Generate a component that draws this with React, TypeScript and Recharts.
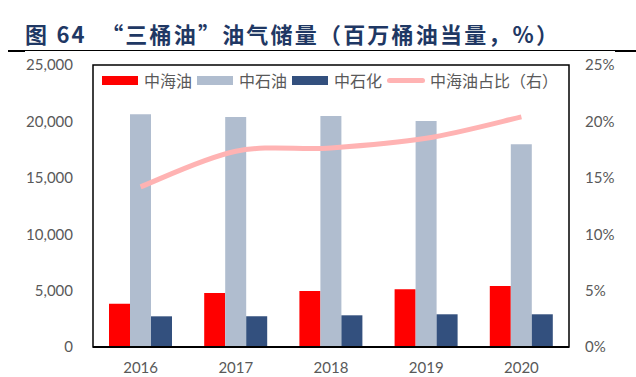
import React from "react";
import {
  ComposedChart,
  Bar,
  Line,
  XAxis,
  YAxis,
  ReferenceArea,
} from "recharts";

const years = ["2016", "2017", "2018", "2019", "2020"];
const cnooc = [3840, 4790, 4965, 5115, 5410];
const petroChina = [20630, 20390, 20480, 20035, 17970];
const sinopec = [2720, 2720, 2810, 2900, 2900];
const cnoocShare = [0.142, 0.1735, 0.1765, 0.185, 0.204];
const leftTicks = [0, 5000, 10000, 15000, 20000, 25000];
const rightTicks = [0, 0.05, 0.1, 0.15, 0.2, 0.25];

const seriesNames = ["中海油", "中石油", "中石化", "中海油占比（右）"];
const colors = ["#FF0000", "#B0BDCF", "#33507E", "#FFB3B3"];
const seriesKinds = ["bar", "bar", "bar", "line"];

const data = years.map((y, i) => ({
  year: y,
  cnooc: cnooc[i],
  petroChina: petroChina[i],
  sinopec: sinopec[i],
  share: cnoocShare[i],
}));

const tickStyle = { fill: "#595959", fontSize: 15, fontFamily: "Lato, 'Open Sans', sans-serif" };

// Excel-like smoothed curve (Catmull-Rom style Bezier)
const smoothCurve: any = (context: any) => {
  let pts: number[][] = [];
  return {
    areaStart() {},
    areaEnd() {},
    lineStart() {
      pts = [];
    },
    point(x: number, y: number) {
      pts.push([+x, +y]);
    },
    lineEnd() {
      if (!pts.length) return;
      context.moveTo(pts[0][0], pts[0][1]);
      for (let i = 0; i < pts.length - 1; i++) {
        const p0 = pts[i - 1] || pts[i];
        const p1 = pts[i];
        const p2 = pts[i + 1];
        const p3 = pts[i + 2] || p2;
        context.bezierCurveTo(
          p1[0] + (p2[0] - p0[0]) / 6,
          p1[1] + (p2[1] - p0[1]) / 6,
          p2[0] - (p3[0] - p1[0]) / 6,
          p2[1] - (p3[1] - p1[1]) / 6,
          p2[0],
          p2[1]
        );
      }
    },
  };
};

function LegendBox() {
  return (
    <div
      style={{
        position: "absolute",
        left: 102,
        top: 70,
        display: "flex",
        alignItems: "center",
        fontFamily: "'Noto Sans CJK SC', sans-serif",
        fontSize: 16,
        color: "#595959",
        lineHeight: "20px",
        whiteSpace: "nowrap",
      }}
    >
      {seriesNames.map((name, i) => (
        <div key={i} style={{ display: "flex", alignItems: "center", marginRight: 5 }}>
          {seriesKinds[i] === "line" ? (
            <div style={{ width: 38, height: 5, borderRadius: 3, background: colors[i], marginRight: 5 }} />
          ) : (
            <div style={{ width: 36, height: 9, background: colors[i], marginRight: 6 }} />
          )}
          <span>{name}</span>
        </div>
      ))}
    </div>
  );
}

export default function App() {
  return (
    <div style={{ position: "absolute", left: 0, top: 0, width: 636, height: 377, background: "#fff" }}>
      <div
        style={{
          position: "absolute",
          left: 25,
          top: 21,
          fontFamily: "'Noto Sans CJK SC', sans-serif",
          fontWeight: 700,
          fontSize: 22,
          letterSpacing: 2.2,
          lineHeight: "24px",
          color: "#1F3864",
          whiteSpace: "pre",
          textSpacingTrim: "space-all",
        } as any}
      >
        {"图 64  “三桶油”油气储量（百万桶油当量，%）"}
      </div>
      <div style={{ position: "absolute", left: 8, top: 50, width: 628, height: 1, background: "#000" }} />
      <div style={{ position: "absolute", left: 8, top: 50, width: 17, height: 2, background: "#000" }} />
      <div style={{ position: "absolute", left: 615, top: 50, width: 21, height: 2, background: "#000" }} />
      <div style={{ position: "absolute", left: 0, top: 0 }}>
        <ComposedChart
          width={636}
          height={377}
          data={data}
          margin={{ top: 65, right: 0, bottom: 0, left: 0 }}
          barGap={0}
        >
          <ReferenceArea
            yAxisId="left"
            y1={0}
            y2={25000}
            fill="none"
            stroke="#000"
            strokeWidth={1.5}
            ifOverflow="visible"
          />
          <XAxis
            dataKey="year"
            height={30}
            tickSize={0}
            tickMargin={15}
            tick={tickStyle}
            axisLine={{ stroke: "#000", strokeWidth: 2 }}
            tickLine={false}
          />
          <YAxis
            yAxisId="left"
            width={93}
            domain={[0, 25000]}
            ticks={leftTicks}
            tickFormatter={(v: number) => v.toLocaleString("en-US")}
            tick={tickStyle}
            tickSize={0}
            tickMargin={20}
            axisLine={false}
            tickLine={false}
          />
          <YAxis
            yAxisId="right"
            orientation="right"
            width={67}
            domain={[0, 0.25]}
            ticks={rightTicks}
            tickFormatter={(v: number) => `${Math.round(v * 100)}%`}
            tick={{ ...tickStyle, textAnchor: "start" }}
            tickSize={0}
            tickMargin={16}
            axisLine={false}
            tickLine={false}
          />
          <Bar yAxisId="left" dataKey="cnooc" name={seriesNames[0]} fill={colors[0]} barSize={21} isAnimationActive={false} />
          <Bar yAxisId="left" dataKey="petroChina" name={seriesNames[1]} fill={colors[1]} barSize={21} isAnimationActive={false} />
          <Bar yAxisId="left" dataKey="sinopec" name={seriesNames[2]} fill={colors[2]} barSize={21} isAnimationActive={false} />
          <Line
            yAxisId="right"
            type={smoothCurve}
            dataKey="share"
            name={seriesNames[3]}
            stroke={colors[3]}
            strokeWidth={5}
            dot={false}
            isAnimationActive={false}
          />
        </ComposedChart>
      </div>
      <LegendBox />
    </div>
  );
}
